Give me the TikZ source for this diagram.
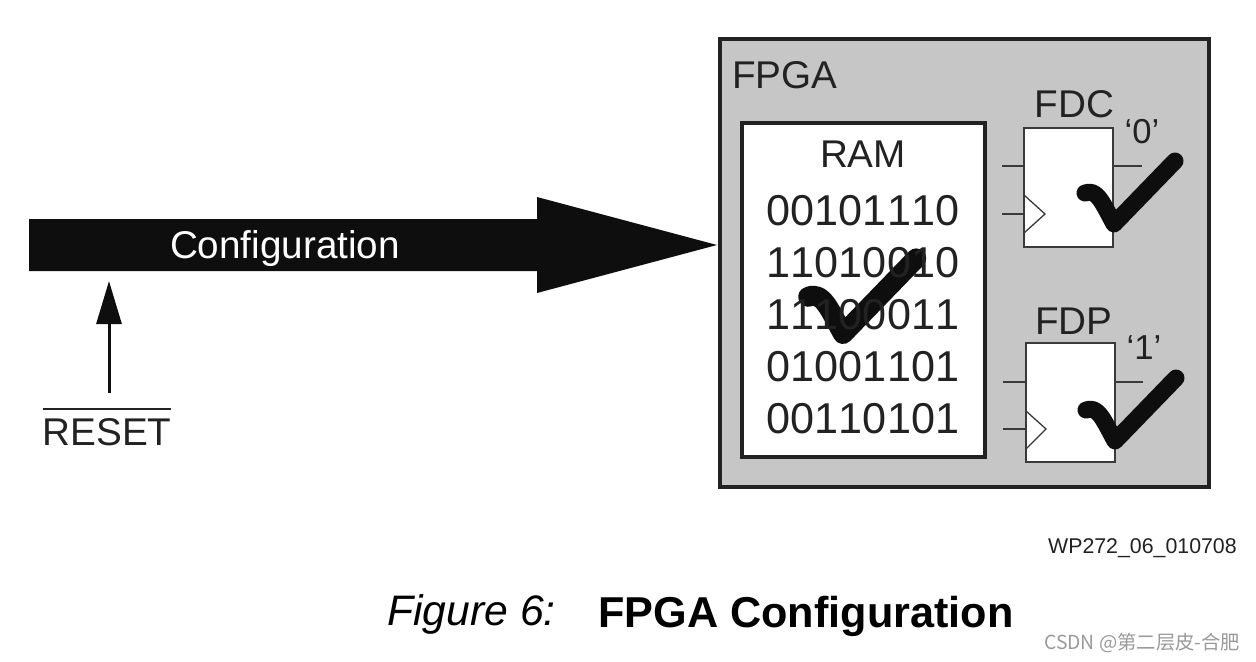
\documentclass[tikz,border=0pt]{standalone}
\usepackage{fontspec}
\setmainfont{Liberation Sans}
\newfontfamily\cjk{Noto Sans CJK SC}
\newfontfamily\nokern{Liberation Sans}[Kerning=Off]
\usetikzlibrary{arrows.meta}
\def\u{0.75pt}
\tikzset{
  lbl/.style={anchor=base, inner sep=0pt, text=txt, font=\fontsize{29}{34}\selectfont},
  bits/.style={lbl, font=\fontsize{32.4}{38}\selectfont\nokern},
  quot/.style={lbl, font=\fontsize{26}{30}\selectfont},
  ff/.style={draw=ffline, fill=white, line width=1.5*\u, minimum width=89*\u, minimum height=119*\u, inner sep=0pt, outer sep=0pt},
  pin/.style={draw=ffline, line width=1.3*\u},
  tick/.pic={
    \draw[pic actions, line cap=round, line join=round]
      (-29,-31) .. controls (-17,-36) and (-11,-20) .. (0,0) -- (61,-63);
  }
}
\definecolor{txt}{HTML}{222222}
\definecolor{ffline}{HTML}{3A3A3A}
\definecolor{boxgray}{HTML}{C6C6C6}
\definecolor{tickcol}{HTML}{0E0E0E}
\begin{document}
\begin{tikzpicture}[x=0.75pt,y=-0.75pt]
  \useasboundingbox (0,0) rectangle (1256,661);

  % big arrow
  \coordinate (tip) at (717,245);
  \fill[tickcol] (29,219) -- (537,219) -- (537,197) -- (tip) -- (537,293) -- (537,271) -- (29,271) -- cycle;
  \node[lbl, text=white] at (285,258) {Configuration};

  % reset
  \node[lbl] (reset) at (107,445) {RESET};
  \coordinate (rsttail) at (109,393);
  \coordinate (rsthead) at (109,281);
  \draw[tickcol, line width=3*\u, -{Triangle[length=43*\u, width=25*\u]}] (rsttail) -- (rsthead);
  \draw[txt, line width=2*\u] (43,409) -- (171,409);

  % fpga box and blocks
  \node[draw=txt, fill=boxgray, line width=4*\u, minimum width=489*\u, minimum height=448*\u, inner sep=0pt, outer sep=0pt] (fpga) at (964,263) {};
  \node[lbl, anchor=base west] at (732,88) {FPGA};
  \node[draw=txt, fill=white, line width=4*\u, minimum width=243*\u, minimum height=334*\u, inner sep=0pt, outer sep=0pt] (ram) at (863.5,290) {};
  \node[ff] (fdc) at (1068.5,187.5) {};
  \node[ff] (fdp) at (1070.5,402.5) {};

  % flip-flop pins and clock marks
  \coordinate (c1) at (1002,166); \coordinate (c1e) at (1024,166);
  \coordinate (c2) at (1002,214); \coordinate (c2e) at (1024,214);
  \coordinate (c3) at (1113,166); \coordinate (c3e) at (1142,166);
  \coordinate (p1) at (1003,382); \coordinate (p1e) at (1026,382);
  \coordinate (p2) at (1003,429); \coordinate (p2e) at (1026,429);
  \coordinate (p3) at (1115,382); \coordinate (p3e) at (1143,382);
  \foreach \a/\b in {c1/c1e,c2/c2e,c3/c3e,p1/p1e,p2/p2e,p3/p3e} \draw[pin] (\a) -- (\b);
  \draw[pin] (1024,195) -- (1045,214) -- (1024,233);
  \draw[pin] (1026,411) -- (1046,429) -- (1026,449);

  % ticks, text goes on top so the digits show through faintly
  \pic[draw=tickcol, line width=17*\u] at (1114,224) {tick};
  \pic[draw=tickcol, line width=17*\u] at (1115,441) {tick};
  \pic[draw=tickcol, line width=20*\u, scale=1.2] at (843,334) {tick};

  \node[lbl] at (863,167) {RAM};
  \node[bits] at (863,225) {00101110};
  \node[bits] at (863,277) {11010010};
  \node[bits] at (863,329) {11100011};
  \node[bits] at (863,381) {01001101};
  \node[bits] at (863,433) {00110101};

  \node[lbl] at (1074.5,117) {FDC};
  \node[lbl] at (1074,334) {FDP};
  \node[quot] at (1142,143) {‘0’};
  \node[quot] at (1144,359) {‘1’};

  % tag and caption
  \node[lbl, anchor=base east, font=\fontsize{16}{19}\selectfont] at (1237,553) {WP272\_06\_010708};
  \node[lbl, anchor=base west, text=black, font=\fontsize{32}{38}\selectfont\itshape] at (387,625) {Figure 6:};
  \node[lbl, anchor=base west, text=black, font=\fontsize{32.4}{38}\selectfont\bfseries] at (598,627) {FPGA Configuration};
  \node[lbl, anchor=base west, text=black!40, font=\fontsize{14.5}{18}\selectfont\cjk] at (1044,649) {CSDN @第二层皮-合肥};
\end{tikzpicture}
\end{document}
